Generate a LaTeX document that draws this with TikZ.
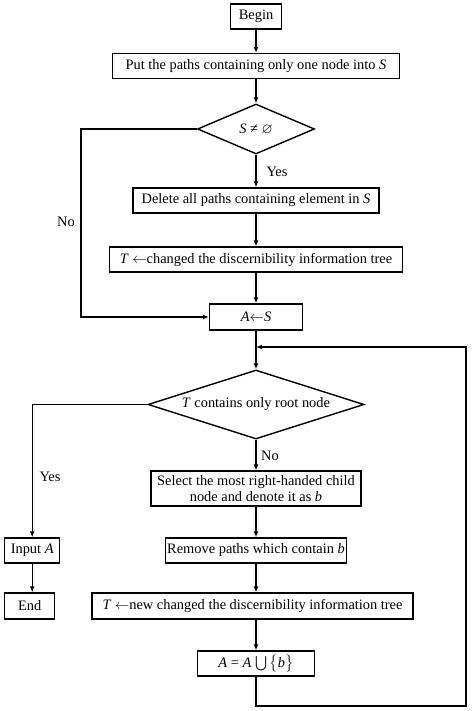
\documentclass[tikz,border=0pt]{standalone}
\usepackage{amsmath,amssymb}
\usepackage{fontspec}
\setmainfont{Liberation Serif}
\usetikzlibrary{shapes.geometric,arrows.meta}

\tikzset{
    box/.style={draw, line width=1.4pt, inner sep=2pt, minimum height=25pt, align=center},
    choice/.style={draw, diamond, line width=1.4pt, inner sep=0pt},
    arr/.style={line width=1.4pt, -{Latex[length=6pt,width=5pt]}}
}

\begin{document}
\begin{tikzpicture}[x=1pt, y=-1pt, font=\fontsize{14.4}{16.5}\selectfont]
    \useasboundingbox (0,0) rectangle (474,711);

    % Upper part: start and first test
    \node[box, minimum width=51pt] (begin) at (256,16.5) {Begin};
    \node[box, minimum width=287pt] (put) at (256,66) {Put the paths containing only one node into \textit{S}};
    \node[choice, aspect=2.34, minimum width=117pt, minimum height=50pt] (test1) at (256,129) {\textit{S} ≠ $\varnothing$};
    \node[box, minimum width=246pt] (delete) at (256,200.5) {Delete all paths containing element in \textit{S}};
    \node[box, minimum width=293pt] (change) at (256,259.5) {\textit{T} $\leftarrow$changed the discernibility information tree};
    \node[box, minimum width=93pt, minimum height=26pt] (assign) at (256,317) {\textit{A}$\leftarrow$\textit{S}};

    % Loop part
    \node[choice, aspect=3.13, minimum width=216pt, minimum height=69pt] (test2) at (256,404.5) {\textit{T} contains only root node};
    \node[box, minimum width=210pt, minimum height=35pt, inner sep=1pt] (select) at (256,488.5) {Select the most right-handed child\\node and denote it as \textit{b}};
    \node[box, minimum width=181pt] (remove) at (256,550.5) {Remove paths which contain \textit{b}};
    \node[box, minimum width=321pt, minimum height=26pt] (newtree) at (252.5,606) {\textit{T} $\leftarrow$new changed the discernibility information tree};
    \node[box, minimum width=117pt] (union) at (256,663.5) {\textit{A} = \textit{A} $\bigcup\big\{$\textit{b}$\big\}$};

    % Exit
    \node[box, minimum width=55pt, anchor=west] (input) at (4,550.5) {Input \textit{A}};
    \node[box, minimum width=50pt, minimum height=26pt, anchor=west] (end) at (4,606) {End};

    \coordinate (noleft) at (81,129);
    \coordinate (loop) at (466,706);
    \coordinate (merge) at (256,347);

    % Connectors
    \draw[arr] (begin) -- (put);
    \draw[arr] (put) -- (test1);
    \draw[arr] (test1) -- (delete);
    \draw[arr] (delete) -- (change);
    \draw[arr] (change) -- (assign);
    \draw[arr] (test1.west) -- (noleft) |- (assign.west);
    \draw[arr] (assign) -- (test2);
    \draw[arr] (test2) -- (select);
    \draw[arr] (select) -- (remove);
    \draw[arr] (remove) -- (remove |- newtree.north);
    \draw[arr] (remove |- newtree.south) -- (union);
    \draw[arr] (test2.west) -| (input.north);
    \draw[arr] (input.south) -- (input.south |- end.north);
    \draw[arr] (union.south) |- (loop) |- (merge);

    % Labels
    \node at (277,172) {Yes};
    \node at (66,222) {No};
    \node at (270,456) {No};
    \node at (50,477) {Yes};
\end{tikzpicture}
\end{document}
